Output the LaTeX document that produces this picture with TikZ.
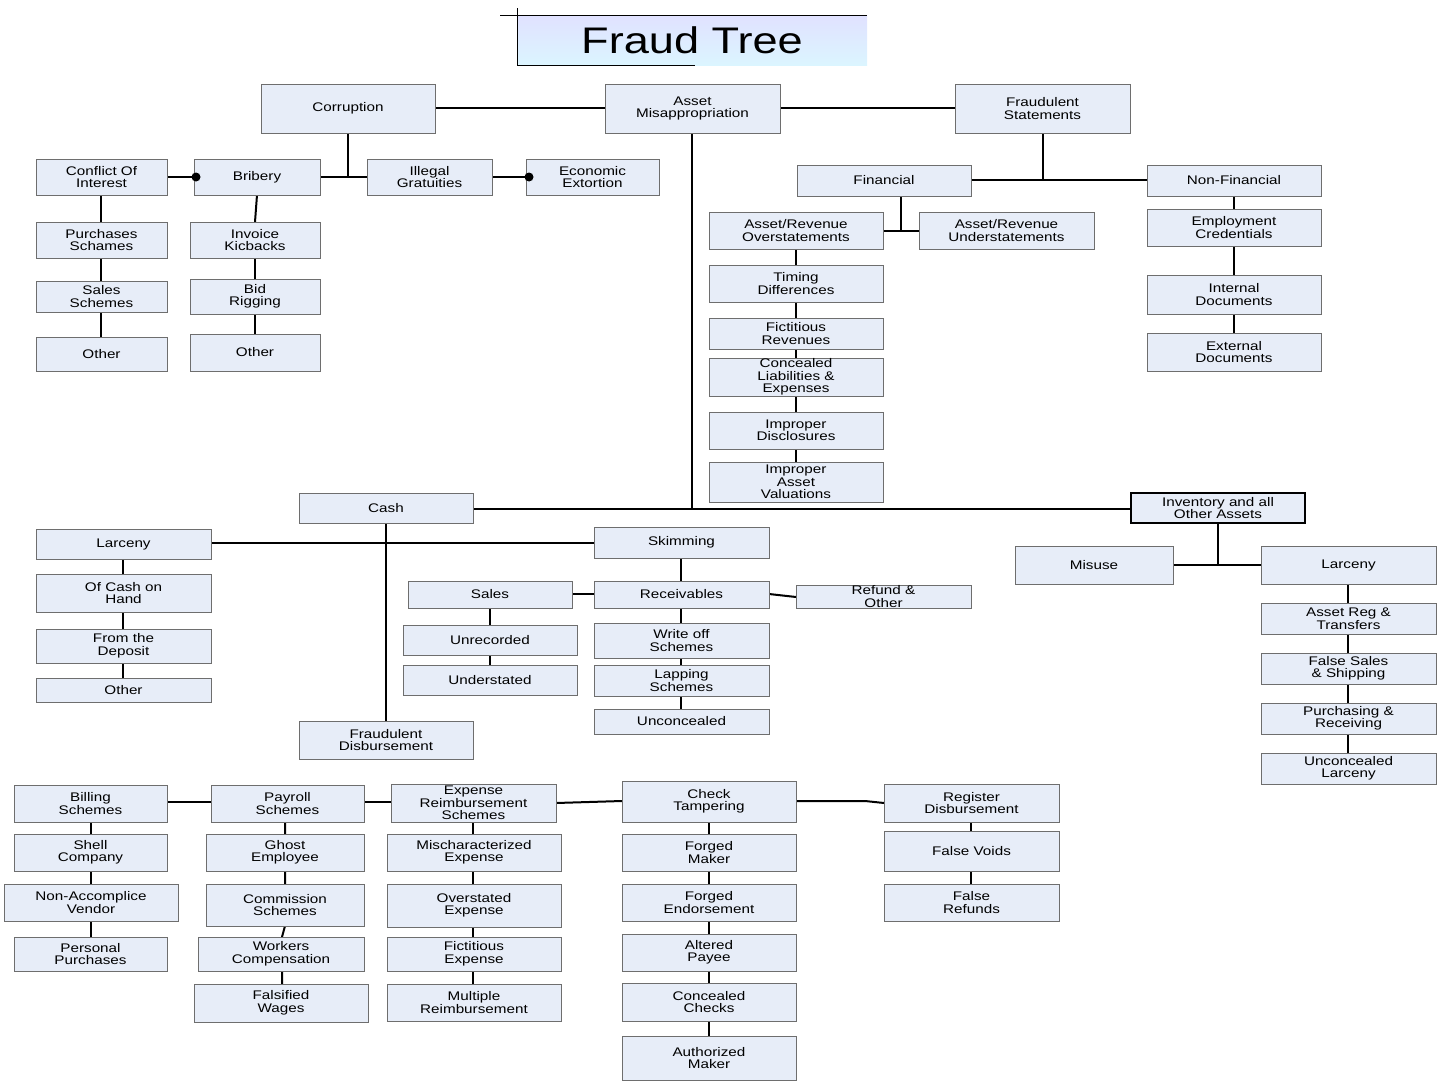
\documentclass[tikz,border=0pt]{standalone}
\usepackage{fontspec}
\setmainfont{Liberation Sans}[FakeStretch=1.22]
\definecolor{bxfill}{HTML}{E7EDF8}
\definecolor{bxdraw}{HTML}{6E6E6E}
\tikzset{
  bx/.style={draw=bxdraw,fill=bxfill,line width=0.9pt,inner sep=0pt,align=center,
    font=\fontsize{12.5}{12.5}\selectfont},
  ln/.style={line width=2pt,black},
  dotc/.style={circle,fill=black,inner sep=0pt,minimum size=9pt}
}
\newcommand\bx[6]{\node[bx,minimum width={(#4-#2)*1pt},minimum height={(#5-#3)*1pt}] (#1) at ({(#2+#4)/2},{(#3+#5)/2}) {#6};}
\begin{document}
\begin{tikzpicture}[x=1pt,y=-1pt]
\useasboundingbox (0,0) rectangle (1441,1084);
% title
\shade[top color=cyan!3!blue!12,bottom color=blue!28!cyan!14] (517,15) rectangle (867,65);
\node (title) at (692,40) {\fontsize{37}{37}\selectfont Fraud Tree};
\draw[line width=1pt] (500,15) -- (867,15);
\draw[line width=1pt] (517,8) -- (517,65) -- (695,65);
% connectors first, boxes on top
\coordinate (amb) at (692,509);
\draw[ln] (348,108) -- (955,108);
\draw[ln] (348,133) -- (348,177);
\draw[ln] (320,177) -- (367,177);
\draw[ln] (167,177) -- (194,177);
\draw[ln] (492,177) -- (526,177);
\draw[ln] (101,195) -- (101,337);
\draw[ln] (257,195) -- (255,222);
\draw[ln] (255,258) -- (255,334);
\draw[ln] (1043,133) -- (1043,180);
\draw[ln] (971,180) -- (1147,180);
\draw[ln] (901,196) -- (901,231);
\draw[ln] (883,231) -- (919,231);
\draw[ln] (796,249) -- (796,462);
\draw[ln] (1234,196) -- (1234,333);
\draw[ln] (692,133) -- (amb);
\draw[ln] (473,509) -- (1131,509);
\draw[ln] (386,523) -- (386,721);
\draw[ln] (211,543) -- (594,543);
\draw[ln] (123,559) -- (123,678);
\draw[ln] (681,558) -- (681,709);
\draw[ln] (572,594) -- (594,594);
\draw[ln] (769,594) -- (796,597);
\draw[ln] (490,608) -- (490,665);
\draw[ln] (1218,523) -- (1218,565);
\draw[ln] (1173,565) -- (1261,565);
\draw[ln] (1348,584) -- (1348,753);
\draw[ln] (167,802) -- (211,802);
\draw[ln] (364,802) -- (391,802);
\draw[ln] (556,803) -- (622,801);
\draw[ln] (796,801) -- (865,801) -- (884,803);
\draw[ln] (91,822) -- (91,937);
\draw[ln] (285,822) -- (285,926) -- (282,937) -- (282,984);
\draw[ln] (473,822) -- (473,984);
\draw[ln] (709,822) -- (709,1036);
\draw[ln] (971,822) -- (971,884);
% row 1
\bx{corr}{261}{84}{435}{133}{Corruption}
\bx{am}{605}{84}{780}{133}{Asset\\Misappropriation}
\bx{fs}{955}{84}{1130}{133}{Fraudulent\\Statements}
% corruption
\bx{coi}{36}{159}{167}{195}{Conflict Of\\Interest}
\bx{brib}{194}{159}{320}{195}{Bribery}
\bx{ill}{367}{159}{492}{195}{Illegal\\Gratuities}
\bx{eco}{526}{159}{659}{195}{Economic\\Extortion}
\node[dotc] (d1) at (196,177) {};
\node[dotc] (d2) at (529,177) {};
\bx{pur}{36}{222}{167}{258}{Purchases\\Schames}
\bx{sal}{36}{281}{167}{312}{Sales\\Schemes}
\bx{oth1}{36}{337}{167}{371}{Other}
\bx{inv}{190}{222}{320}{258}{Invoice\\Kicbacks}
\bx{bid}{190}{279}{320}{314}{Bid\\Rigging}
\bx{oth2}{190}{334}{320}{371}{Other}
% fraudulent statements
\bx{fin}{797}{165}{971}{196}{Financial}
\bx{nfin}{1147}{165}{1321}{196}{Non-Financial}
\bx{aro}{709}{212}{883}{249}{Asset/Revenue\\Overstatements}
\bx{aru}{919}{212}{1094}{249}{Asset/Revenue\\Understatements}
\bx{tim}{709}{265}{883}{302}{Timing\\Differences}
\bx{fic}{709}{318}{883}{349}{Fictitious\\Revenues}
\bx{con}{709}{358}{883}{396}{Concealed\\Liabilities \&\\Expenses}
\bx{imd}{709}{412}{883}{449}{Improper\\Disclosures}
\bx{imv}{709}{462}{883}{502}{Improper\\Asset\\Valuations}
\bx{emp}{1147}{209}{1321}{246}{Employment\\Credentials}
\bx{intd}{1147}{275}{1321}{314}{Internal\\Documents}
\bx{extd}{1147}{333}{1321}{371}{External\\Documents}
% asset misappropriation
\bx{cash}{299}{493}{473}{523}{Cash}
\node[bx,draw=black,line width=2pt,minimum width=174pt,minimum height=30pt] (inva) at (1218,508) {Inventory and all\\Other Assets};
\bx{lar}{36}{529}{211}{559}{Larceny}
\bx{skim}{594}{527}{769}{558}{Skimming}
\bx{och}{36}{574}{211}{612}{Of Cash on\\Hand}
\bx{ftd}{36}{629}{211}{663}{From the\\Deposit}
\bx{oth3}{36}{678}{211}{702}{Other}
\bx{sales}{408}{581}{572}{608}{Sales}
\bx{rec}{594}{581}{769}{608}{Receivables}
\bx{ref}{796}{585}{971}{608}{Refund \&\\Other}
\bx{unr}{403}{625}{577}{655}{Unrecorded}
\bx{und}{403}{665}{577}{695}{Understated}
\bx{wos}{594}{623}{769}{658}{Write off\\Schemes}
\bx{lap}{594}{665}{769}{696}{Lapping\\Schemes}
\bx{unc}{594}{709}{769}{734}{Unconcealed}
\bx{fd}{299}{721}{473}{759}{Fraudulent\\Disbursement}
\bx{mis}{1015}{546}{1173}{584}{Misuse}
\bx{lar2}{1261}{546}{1436}{584}{Larceny}
\bx{art}{1261}{603}{1436}{634}{Asset Reg \&\\Transfers}
\bx{fss}{1261}{653}{1436}{684}{False Sales\\\& Shipping}
\bx{prr}{1261}{703}{1436}{734}{Purchasing \&\\Receiving}
\bx{ucl}{1261}{753}{1436}{784}{Unconcealed\\Larceny}
% disbursements
\bx{bill}{14}{785}{167}{822}{Billing\\Schemes}
\bx{pay}{211}{785}{364}{822}{Payroll\\Schemes}
\bx{exp}{391}{784}{556}{822}{Expense\\Reimbursement\\Schemes}
\bx{chk}{622}{781}{796}{822}{Check\\Tampering}
\bx{reg}{884}{784}{1059}{822}{Register\\Disbursement}
\bx{shell}{14}{834}{167}{871}{Shell\\Company}
\bx{nav}{4}{884}{178}{921}{Non-Accomplice\\Vendor}
\bx{pp}{14}{937}{167}{971}{Personal\\Purchases}
\bx{ghost}{206}{834}{364}{871}{Ghost\\Employee}
\bx{comm}{206}{884}{364}{926}{Commission\\Schemes}
\bx{work}{198}{937}{364}{971}{Workers\\Compensation}
\bx{fw}{194}{984}{368}{1022}{Falsified\\Wages}
\bx{mce}{387}{834}{561}{871}{Mischaracterized\\Expense}
\bx{ove}{387}{884}{561}{927}{Overstated\\Expense}
\bx{fie}{387}{937}{561}{971}{Fictitious\\Expense}
\bx{mre}{387}{984}{561}{1021}{Multiple\\Reimbursement}
\bx{fm}{622}{834}{796}{871}{Forged\\Maker}
\bx{fe}{622}{884}{796}{921}{Forged\\Endorsement}
\bx{ap}{622}{934}{796}{971}{Altered\\Payee}
\bx{cc}{622}{983}{796}{1021}{Concealed\\Checks}
\bx{aum}{622}{1036}{796}{1080}{Authorized\\Maker}
\bx{fv}{884}{831}{1059}{871}{False Voids}
\bx{fr}{884}{884}{1059}{921}{False\\Refunds}
\end{tikzpicture}
\end{document}
